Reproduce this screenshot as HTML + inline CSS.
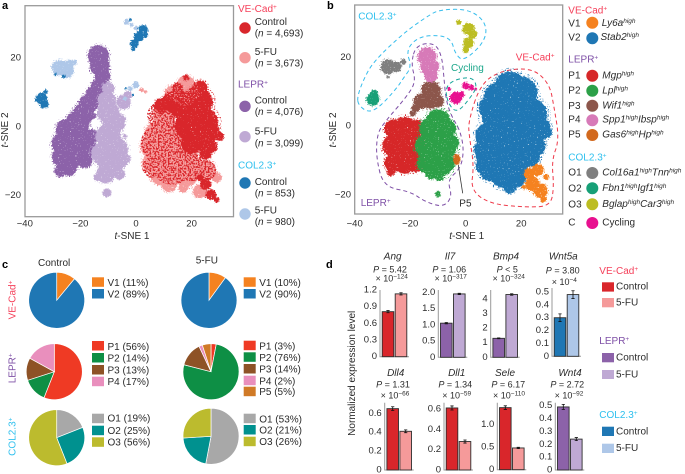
<!DOCTYPE html>
<html lang="en"><head><meta charset="utf-8"><title>t-SNE clusters, pies and expression bars</title>
<style>
html,body{margin:0;padding:0;background:#fff;width:685px;height:474px;overflow:hidden}
svg{display:block}
text{font-family:"Liberation Sans",sans-serif;font-size:10px;fill:#2b2b2b}
.red{fill:#f5405a}.pur{fill:#7e4fa6}.cya{fill:#2fc0ee}
.i{font-style:italic}
.b{font-weight:bold;font-size:11px;fill:#000}
.t{font-size:9.5px}
.sm{font-size:9px}
.sup{font-size:6.5px}
</style></head><body>
<svg id="fig" xmlns="http://www.w3.org/2000/svg" width="685" height="474" viewBox="0 0 685 474">
<defs>
<filter id="rough" x="-8%" y="-8%" width="116%" height="116%" color-interpolation-filters="sRGB"><feTurbulence type="fractalNoise" baseFrequency="0.7" numOctaves="1" seed="4" result="n"/><feDisplacementMap in="SourceGraphic" in2="n" scale="4" xChannelSelector="R" yChannelSelector="G" result="d"/><feColorMatrix in="n" type="matrix" values="0 0 0 0 0  0 0 0 0 0  0 0 0 0 0  9 0 0 0 -1.9" result="m"/><feComposite in="d" in2="m" operator="in"/></filter>
<filter id="sparse" x="-8%" y="-8%" width="116%" height="116%" color-interpolation-filters="sRGB"><feTurbulence type="fractalNoise" baseFrequency="0.75" numOctaves="1" seed="11" result="n"/><feColorMatrix in="n" type="matrix" values="0 0 0 0 0  0 0 0 0 0  0 0 0 0 0  0 10 0 0 -5.6" result="m"/><feComposite in="SourceGraphic" in2="m" operator="in"/></filter>
<filter id="scatter" x="-8%" y="-8%" width="116%" height="116%" color-interpolation-filters="sRGB"><feTurbulence type="fractalNoise" baseFrequency="0.6" numOctaves="1" seed="23" result="n"/><feColorMatrix in="n" type="matrix" values="0 0 0 0 0  0 0 0 0 0  0 0 0 0 0  0 0 10 0 -4.7" result="m"/><feComposite in="SourceGraphic" in2="m" operator="in"/></filter>
</defs>

<text class="b" x="2" y="9">a</text>
<text class="b" x="327" y="9">b</text>
<text class="b" x="2" y="268">c</text>
<text class="b" x="326" y="268">d</text>

<g id="plotA"></g>
<g id="plotB"></g>

<g>
<text class="red" x="238" y="12">VE-Cad<tspan class="sup" dy="-3">+</tspan></text>
<circle cx="245" cy="28" r="5.7" fill="#d9262b"/>
<text x="254.7" y="25">Control</text>
<text x="254.7" y="36.7">(<tspan class="i">n</tspan> = 4,693)</text>
<circle cx="245" cy="57.7" r="5.7" fill="#f59a9a"/>
<text x="254.7" y="55">5-FU</text>
<text x="254.7" y="66.7">(<tspan class="i">n</tspan> = 3,673)</text>
<text class="pur" x="238" y="87.7">LEPR<tspan class="sup" dy="-3">+</tspan></text>
<circle cx="245" cy="106.3" r="5.7" fill="#8c62a9"/>
<text x="254.7" y="103.3">Control</text>
<text x="254.7" y="115">(<tspan class="i">n</tspan> = 4,076)</text>
<circle cx="245" cy="136.7" r="5.7" fill="#bfa9d4"/>
<text x="254.7" y="134.3">5-FU</text>
<text x="254.7" y="146.7">(<tspan class="i">n</tspan> = 3,099)</text>
<text class="cya" x="238" y="168.3">COL2.3<tspan class="sup" dy="-3">+</tspan></text>
<circle cx="245" cy="183" r="5.7" fill="#1f77b4"/>
<text x="254.7" y="185">Control</text>
<text x="254.7" y="196.7">(<tspan class="i">n</tspan> = 853)</text>
<circle cx="245" cy="214" r="5.7" fill="#aec7e8"/>
<text x="254.7" y="213.3">5-FU</text>
<text x="254.7" y="225">(<tspan class="i">n</tspan> = 980)</text>
</g>

<g>
<text class="red" x="568.3" y="13.3">VE-Cad<tspan class="sup" dy="-3">+</tspan></text>
<text x="568.3" y="26.7">V1</text><circle cx="592.3" cy="22.7" r="6" fill="#f58220"/>
<text class="i" x="601.7" y="26">Ly6a<tspan class="sup" dy="-3">high</tspan></text>
<text x="568.3" y="40.7">V2</text><circle cx="592.3" cy="38.3" r="6" fill="#1f77b4"/>
<text class="i" x="600.5" y="40">Stab2<tspan class="sup" dy="-3">high</tspan></text>
<text class="pur" x="568.3" y="62.7">LEPR<tspan class="sup" dy="-3">+</tspan></text>
<text x="568.3" y="78.3">P1</text><circle cx="592.3" cy="75.7" r="6" fill="#d62728"/>
<text class="i" x="602.3" y="78.3">Mgp<tspan class="sup" dy="-3">high</tspan></text>
<text x="568.3" y="93.7">P2</text><circle cx="592.3" cy="90.7" r="6" fill="#2ca048"/>
<text class="i" x="602.3" y="93.7">Lpl<tspan class="sup" dy="-3">high</tspan></text>
<text x="568.3" y="109">P3</text><circle cx="592.3" cy="105.7" r="6" fill="#8c564b"/>
<text class="i" x="602.3" y="108.5">Wif1<tspan class="sup" dy="-3">high</tspan></text>
<text x="568.3" y="122.7">P4</text><circle cx="592.3" cy="120.3" r="6" fill="#d77ab8"/>
<text class="i" x="602.3" y="122.7">Spp1<tspan class="sup" dy="-3">high</tspan><tspan dy="3">Ibsp</tspan><tspan class="sup" dy="-3">high</tspan></text>
<text x="568.3" y="137.7">P5</text><circle cx="592.3" cy="135" r="6" fill="#d2691e"/>
<text class="i" x="602.3" y="137.7">Gas6<tspan class="sup" dy="-3">high</tspan><tspan dy="3">Hp</tspan><tspan class="sup" dy="-3">high</tspan></text>
<text class="cya" x="568.3" y="160.7">COL2.3<tspan class="sup" dy="-3">+</tspan></text>
<text x="568.3" y="175.7">O1</text><circle cx="592.3" cy="173" r="6" fill="#7f7f7f"/>
<text class="i" x="602.3" y="175.7">Col16a1<tspan class="sup" dy="-3">high</tspan><tspan dy="3">Tnn</tspan><tspan class="sup" dy="-3">high</tspan></text>
<text x="568.3" y="191.7">O2</text><circle cx="592.3" cy="188.3" r="6" fill="#17a077"/>
<text class="i" x="602.3" y="191">Fbn1<tspan class="sup" dy="-3">high</tspan><tspan dy="3">Igf1</tspan><tspan class="sup" dy="-3">high</tspan></text>
<text x="568.3" y="207.3">O3</text><circle cx="592.3" cy="204.3" r="6" fill="#bcbd22"/>
<text class="i" x="602.3" y="207">Bglap<tspan class="sup" dy="-3">high</tspan><tspan dy="3">Car3</tspan><tspan class="sup" dy="-3">high</tspan></text>
<text x="568.3" y="225.7">C</text><circle cx="592.3" cy="223" r="6" fill="#e8108f"/>
<text x="602.3" y="225.7">Cycling</text>
</g>

<text x="38" y="266">Control</text>
<text x="195.7" y="263.3">5-FU</text>
<text class="red" transform="translate(15.7,300) rotate(-90)" text-anchor="middle">VE-Cad<tspan class="sup" dy="-3">+</tspan></text>
<text class="pur" transform="translate(15.7,368.3) rotate(-90)" text-anchor="middle">LEPR<tspan class="sup" dy="-3">+</tspan></text>
<text class="cya" transform="translate(15.7,436.7) rotate(-90)" text-anchor="middle">COL2.3<tspan class="sup" dy="-3">+</tspan></text>
<g id="pies"></g>

<g id="bars"></g>
<text transform="translate(355,373.3) rotate(-90)" text-anchor="middle">Normalized expression level</text>

<g text-anchor="middle">
<text class="i" x="392.7" y="259.3">Ang</text>
<text class="sm" x="390" y="272.3"><tspan class="i">P</tspan> = 5.42</text>
<text class="sm" x="391.7" y="281.7">× 10<tspan class="sup" dy="-3">−124</tspan></text>
<text class="i" x="450" y="259.3">Il7</text>
<text class="sm" x="449.3" y="272.3"><tspan class="i">P</tspan> = 1.06</text>
<text class="sm" x="450.7" y="281.7">× 10<tspan class="sup" dy="-3">−317</tspan></text>
<text class="i" x="506" y="259.3">Bmp4</text>
<text class="sm" x="507.3" y="272.3"><tspan class="i">P</tspan> &lt; 5</text>
<text class="sm" x="508.7" y="281.7">× 10<tspan class="sup" dy="-3">−324</tspan></text>
<text class="i" x="563.3" y="259.3">Wnt5a</text>
<text class="sm" x="562.7" y="273.3"><tspan class="i">P</tspan> = 3.80</text>
<text class="sm" x="564.3" y="285">× 10<tspan class="sup" dy="-3">−4</tspan></text>
<text class="i" x="395.7" y="376">Dll4</text>
<text class="sm" x="393" y="387.3"><tspan class="i">P</tspan> = 1.31</text>
<text class="sm" x="395" y="398.3">× 10<tspan class="sup" dy="-3">−66</tspan></text>
<text class="i" x="456.7" y="376">Dll1</text>
<text class="sm" x="455.3" y="387.3"><tspan class="i">P</tspan> = 1.34</text>
<text class="sm" x="456.7" y="398.3">× 10<tspan class="sup" dy="-3">−59</tspan></text>
<text class="i" x="505" y="376">Sele</text>
<text class="sm" x="508.3" y="387.3"><tspan class="i">P</tspan> = 6.17</text>
<text class="sm" x="509" y="398.3">× 10<tspan class="sup" dy="-3">−110</tspan></text>
<text class="i" x="570" y="376">Wnt4</text>
<text class="sm" x="567.3" y="387.3"><tspan class="i">P</tspan> = 2.72</text>
<text class="sm" x="569" y="398.3">× 10<tspan class="sup" dy="-3">−92</tspan></text>
</g>

<g>
<text class="red" x="599.3" y="274">VE-Cad<tspan class="sup" dy="-3">+</tspan></text>
<rect x="602" y="282.3" width="12" height="9.3" fill="#d9262b"/><text x="616" y="289.6">Control</text>
<rect x="602" y="298" width="12" height="9.3" fill="#f59a9a"/><text x="616" y="305.7">5-FU</text>
<text class="pur" x="599.3" y="344">LEPR<tspan class="sup" dy="-3">+</tspan></text>
<rect x="602" y="353" width="12" height="9.3" fill="#8c62a9"/><text x="616" y="360.7">Control</text>
<rect x="602" y="370" width="12" height="9" fill="#bfa9d4"/><text x="616" y="377.3">5-FU</text>
<text class="cya" x="599.3" y="418">COL2.3<tspan class="sup" dy="-3">+</tspan></text>
<rect x="602" y="426.7" width="12" height="9.3" fill="#1f77b4"/><text x="616" y="434.3">Control</text>
<rect x="602" y="443.7" width="12" height="9.3" fill="#aec7e8"/><text x="616" y="451">5-FU</text>
</g>

<script>
// t-SNE panel a: estimated clumps of cells, each [tSNE1, tSNE2, spread]
const xTickValues = [-40, -20, 0, 20];
const yTickValues = [-20, 0, 20];
const fiveFuEndothelial = [[8,-2,3.6],[6,-6,3.4],[10,-8,5],[6,-11,3],[14,-12,4.5],[9,-14,3.2],[18,-14,3.6],[21,-12,3],[25,-13,3],[29,-15,1.4],[17,-8,4],[14,-3,4],[10,3,3.2],[14,9,3],[18,12,2.6],[20,9,3],[23,-19,2],[5,-2,1.6],[12,-17,2.2],[17,-18,1.4]];
const controlEndothelial = [[22,7,4.4],[17,6,4],[24,1,4.4],[19,0,4],[27,-2,2.6],[30,-3,1.3],[13,7,3],[9,6,2],[20,-5,3],[24,-4,3.2],[27,-6,1.8],[15,11,1.6],[23,11,2.2],[18,14,0.9],[25,-8,1.8],[25,-17,1.6],[27,-20,1.5],[29,-21.5,0.8],[23,-15,1]];
const controlEndothelialScatter = [[8,-5,5],[13,-11,6],[6,-12,3],[20,-12,4],[14,-3,5],[9,3,4],[25,-13,3],[4,-6,1.6]];
const fiveFuEndothelialScatter = [[18,10,4],[14,10,2.6]];
const fiveFuStromal = [[-10,11,1.8],[-10.5,7.5,2.6],[-10,4,3.2],[-8,1,3.2],[-10,-3,3.6],[-12,-8,3.3],[-8,-7,4],[-9,-11,3.6],[-5.5,-10,2.2],[-3.5,-9.5,1.3],[-11,-14,2.6],[-6,-14,1.6],[-14,-15,1],[-10.5,-19.5,1.2],[-4.5,7,2],[-3,9,1.2],[-5,2,1],[-4,-3,0.6]];
const controlStromal = [[-13.5,20.5,3],[-13,17.5,2.8],[-12,14.5,2.2],[-13.5,11.5,2.2],[-15,9,2.6],[-17,6.5,2.8],[-19,3.5,3],[-21,1,3.4],[-25,-1,3],[-22,-3,4.4],[-26,-5,3.4],[-19.5,-6,4],[-27,-9,2.6],[-24,-9,3.8],[-18.5,-10,2.2],[-27,-13,1.8],[-24,-12.5,2],[-16,-3,2],[-15.5,3,1]];
const fiveFuOsteo = [[-27.5,17,2.2],[-25,16,2],[-24,18,1.3],[-22,18.5,0.7],[-3.4,30.4,0.8],[-1.5,29.5,0.6],[-2,11,0.7],[0,12,0.9],[-4,8,0.6],[0,28.5,0.6]];
const controlOsteo = [[-34,8,1.6],[-33,6.5,1.3],[-32.5,10,0.6],[-36,7.5,0.4],[1,26,1.4],[2.5,28,1.4],[3.5,26.5,0.7],[-0.5,24,1.2],[-1,22.5,0.6],[-2,31,0.4],[-29,15,0.4],[-26,14.5,0.5],[-3.5,11,0.3],[-1,9,0.3]];
const strayPink = [[2,10.5,0.6],[3.5,10,0.4]];

// t-SNE panel b clumps, each [tSNE1, tSNE2, spread]
const clusterV2 = [[16,11,4.6],[20,9.5,4.6],[12,8,4.4],[9,5,3.4],[12,3,5],[18,3,6],[23,3,5],[26,-1,3.6],[29,-2,1.7],[8,-3,3.6],[13,-3,6],[20,-3,6],[25,-6,3],[6,-7,2.4],[9,-8,4.4],[16,-9,6],[23,-9,3],[6,-12,2],[9,-13,3.2],[14,-14,4.2],[18,-15,3],[16,-18,1.8]];
const clusterV1 = [[23,-14,1.6],[26,-13,1.7],[29,-15,0.8],[24,-17,2.1],[27,-19,2],[28,-21.5,0.9],[21,-18,0.6]];
const clusterP1 = [[-26,-1,2.6],[-22,-1,3.4],[-18,-1,2.6],[-26,-6,3.2],[-21,-6,4.2],[-17.5,-6,2.4],[-26,-11,2.6],[-22,-11,3],[-18,-11,2.6],[-27,-13.5,1.2]];
const clusterP2 = [[-10,1,3.6],[-13,-1,3],[-6.5,-1,2.4],[-14,-6,3.4],[-9,-6,4.6],[-5,-5,2.1],[-14,-11,2.8],[-10,-11,4.2],[-6.5,-11,2.2],[-12.5,-14,1.6],[-9.5,-15,1.2],[-10,-20,0.8]];
const clusterP3 = [[-12.5,10,2.8],[-12.5,7.5,2.6],[-16,7,2.2],[-10,7,1.7],[-18,5,1.2],[-19,3.5,0.9]];
const clusterP4 = [[-14,20,2.6],[-13,17,2.6],[-12.5,14.5,1.9]];
const clusterP5 = [[-3.2,-9.5,1],[-3.2,-10.5,0.9]];
const clusterO1 = [[-28,17,2.1],[-25,17,1.5],[-22.5,18.5,0.8],[-28,14,0.4]];
const clusterO2 = [[-33.5,7.5,1.8],[-33,9,1.2]];
const clusterO3 = [[-2.5,30,0.7],[1,28,1.7],[2.5,26.5,1.3],[1,24,1.5],[0,22,0.9]];
const clusterCycling = [[-3.5,8,1.7],[-1.5,9,0.9],[0,11.5,1],[2,11,0.8],[-6,10.5,0.5],[3.5,10.5,0.4]];

// Pie compositions (percent)
const pieVeControl = [11, 89];
const pieVe5fu = [10, 90];
const pieLeprControl = [56, 14, 13, 17];
const pieLepr5fu = [3, 76, 14, 2, 5];
const pieColControl = [19, 25, 56];
const pieCol5fu = [53, 21, 26];
const pieVeCodes = ['V1', 'V2'];
const pieLeprCodes = ['P1', 'P2', 'P3', 'P4', 'P5'];
const pieColCodes = ['O1', 'O2', 'O3'];

// Expression bar values
const barGenes = ['Ang', 'Il7', 'Bmp4', 'Wnt5a', 'Dll4', 'Dll1', 'Sele', 'Wnt4'];
const controlMeans = [0.81, 1.05, 1.3, 0.30, 0.65, 0.61, 1.37, 0.49];
const fiveFuMeans = [1.13, 1.95, 4.3, 0.48, 0.41, 0.28, 0.48, 0.24];
const controlErrors = [0.02, 0.02, 0.03, 0.03, 0.02, 0.02, 0.04, 0.02];
const fiveFuErrors = [0.02, 0.02, 0.05, 0.03, 0.015, 0.015, 0.015, 0.012];
const ticksAng = ['0', '0.3', '0.6', '0.9', '1.2'];
const ticksIl7 = ['0', '0.5', '1.0', '1.5', '2.0'];
const ticksBmp4 = ['0', '1', '2', '3', '4'];
const ticksWnt5a = ['0', '0.1', '0.2', '0.3', '0.4', '0.5'];
const ticksDll4 = ['0', '0.2', '0.4', '0.6'];
const ticksDll1 = ['0', '0.2', '0.4', '0.6'];
const ticksSele = ['0', '0.5', '1.0'];
const ticksWnt4 = ['0', '0.1', '0.2', '0.3', '0.4', '0.5'];
const barTicks = [ticksAng, ticksIl7, ticksBmp4, ticksWnt5a, ticksDll4, ticksDll1, ticksSele, ticksWnt4];

const NS = 'http://www.w3.org/2000/svg';
function mk(parent, tag, attrs, txt) {
  const el = document.createElementNS(NS, tag);
  for (const k in attrs) el.setAttribute(k, attrs[k]);
  if (txt !== undefined) el.textContent = txt;
  parent.appendChild(el);
  return el;
}
function minus(v) { return String(v).replace('-', '\u2212'); }

function drawTsneFrame(root, sx, sy, L, R, T, B, tickRight, xTitleX, yTitleX) {
  xTickValues.forEach(v => {
    const t = mk(root, 'text', {x: sx(v), y: 226.7, 'text-anchor': 'middle', class: 't'}, minus(v));
    
    
  });
  yTickValues.forEach(v => {
    const t = mk(root, 'text', {x: tickRight, y: sy(v) + 3.3, 'text-anchor': 'end', class: 't'}, minus(v));
    
    
  });
  const f = mk(root, 'rect', {x: L, y: T, width: R - L, height: B - T, fill: 'none', stroke: '#9a9a9a', 'stroke-width': 1.3});
  
  
  const xt = mk(root, 'text', {x: xTitleX, y: 239, 'text-anchor': 'middle'});
  
  
  mk(xt, 'tspan', {class: 'i'}, 't');
  mk(xt, 'tspan', {}, '-SNE 1');
  const yt = mk(root, 'text', {transform: 'translate(' + yTitleX + ',130) rotate(-90)', 'text-anchor': 'middle'});
  
  
  mk(yt, 'tspan', {class: 'i'}, 't');
  mk(yt, 'tspan', {}, '-SNE 2');
}
function clumpLayer(root, clumps, sx, sy, rad, color, name, filterId) {
  const g = mk(root, 'g', {fill: color, filter: 'url(#' + filterId + ')'});
  
  
  clumps.forEach(c => {
    const d = mk(g, 'circle', {cx: sx(c[0]), cy: sy(c[1]), r: c[2] * rad});
    
    
  });
}
function drawClumps(root, clumps, sx, sy, color, name) {
  clumpLayer(root, clumps, sx, sy, 4.3, color, name + '-fringe', 'sparse');
  clumpLayer(root, clumps, sx, sy, 3.5, color, name, 'rough');
}

// Panel a
const ax = v => 136 + 2.78 * v, ay = v => 126 - 3.43 * v;
const plotA = document.getElementById('plotA');
drawClumps(plotA, fiveFuEndothelial, ax, ay, '#f59a9a', 'five-fu-endothelial-cells');
clumpLayer(plotA, controlEndothelialScatter, ax, ay, 3.5, '#d9262b', 'control-endothelial-scatter', 'scatter');
drawClumps(plotA, controlEndothelial, ax, ay, '#d9262b', 'control-endothelial-cells');
clumpLayer(plotA, fiveFuEndothelialScatter, ax, ay, 3.5, '#f59a9a', 'five-fu-endothelial-scatter', 'sparse');
drawClumps(plotA, controlStromal, ax, ay, '#8c62a9', 'control-stromal-cells');
drawClumps(plotA, fiveFuStromal, ax, ay, '#bfa9d4', 'five-fu-stromal-cells');
drawClumps(plotA, fiveFuOsteo, ax, ay, '#aec7e8', 'five-fu-osteolineage-cells');
drawClumps(plotA, controlOsteo, ax, ay, '#1f77b4', 'control-osteolineage-cells');
drawClumps(plotA, strayPink, ax, ay, '#f59a9a', 'stray-endothelial-cells');
drawTsneFrame(plotA, ax, ay, 25, 233.5, 5.7, 216.7, 21, 132, 8);

// Panel b
const bx = v => 465.7 + 2.775 * v, by = v => 125.3 - 3.44 * v;
const plotB = document.getElementById('plotB');
drawClumps(plotB, clusterV2, bx, by, '#1f77b4', 'cluster-v2');
drawClumps(plotB, clusterV1, bx, by, '#f58220', 'cluster-v1');
drawClumps(plotB, clusterP1, bx, by, '#d62728', 'cluster-p1');
drawClumps(plotB, clusterP2, bx, by, '#2ca048', 'cluster-p2');
drawClumps(plotB, clusterP3, bx, by, '#8c564b', 'cluster-p3');
drawClumps(plotB, clusterP4, bx, by, '#d77ab8', 'cluster-p4');
drawClumps(plotB, clusterP5, bx, by, '#d2691e', 'cluster-p5');
drawClumps(plotB, clusterO1, bx, by, '#7f7f7f', 'cluster-o1');
drawClumps(plotB, clusterO2, bx, by, '#17a077', 'cluster-o2');
drawClumps(plotB, clusterO3, bx, by, '#bcbd22', 'cluster-o3');
drawClumps(plotB, clusterCycling, bx, by, '#e8108f', 'cluster-cycling');

function drawContours() {
  const smooth = pts => {
    const p = pts.map(q => [340 + q[0] / 3, q[1] / 3]);
    const mid = (a, b) => ((a[0] + b[0]) / 2).toFixed(1) + ' ' + ((a[1] + b[1]) / 2).toFixed(1);
    let d = 'M' + mid(p[p.length - 1], p[0]);
    p.forEach((q, i) => { d += 'Q' + q[0].toFixed(1) + ' ' + q[1].toFixed(1) + ' ' + mid(q, p[(i + 1) % p.length]); });
    return d + 'Z';
  };
  const col = mk(plotB, 'path', {d: smooth([[52,290],[70,240],[100,185],[190,100],[260,50],[300,28],[390,28],[440,70],[435,125],[370,185],[345,160],[335,120],[300,105],[235,110],[198,150],[215,200],[190,235],[170,265],[120,320],[85,338],[55,315]]), fill: 'none', stroke: '#36bdec', 'stroke-width': 1, 'stroke-dasharray': '4 3'});
  
  
  const lepr = mk(plotB, 'path', {d: smooth([[228,135],[285,128],[306,170],[312,235],[318,300],[335,350],[360,390],[372,450],[362,505],[322,540],[337,590],[310,622],[255,605],[212,575],[130,560],[108,470],[112,400],[135,365],[200,290],[228,245],[213,190]]), fill: 'none', stroke: '#7e4fa6', 'stroke-width': 1, 'stroke-dasharray': '4 3'});
  
  
  const cyc = mk(plotB, 'path', {d: smooth([[315,265],[340,240],[395,230],[412,258],[395,288],[352,340],[325,312]]), fill: 'none', stroke: '#17a59a', 'stroke-width': 1, 'stroke-dasharray': '4 3'});
  
  
  const ve = mk(plotB, 'path', {d: smooth([[420,255],[480,212],[575,203],[628,250],[642,320],[658,420],[635,480],[642,560],[632,618],[560,622],[450,612],[392,570],[402,500],[388,410],[385,365]]), fill: 'none', stroke: '#ee3a4a', 'stroke-width': 1, 'stroke-dasharray': '4 3'});
  
  
}
drawContours();
drawTsneFrame(plotB, bx, by, 354.7, 562.7, 5, 214, 351, 466.7, 336);

function annot(txt, x, y, cls, name) {
  const t = mk(plotB, 'text', {x: x, y: y, class: cls}, txt);
  
  
  return t;
}
mk(annot('COL2.3', 358.3, 19.3, 'cya', 'col-region-label'), 'tspan', {class: 'sup', dy: -3}, '+');
mk(annot('VE-Cad', 515.7, 60.7, 'red', 've-cad-region-label'), 'tspan', {class: 'sup', dy: -3}, '+');
mk(annot('LEPR', 360.7, 206, 'pur', 'lepr-region-label'), 'tspan', {class: 'sup', dy: -3}, '+');
annot('Cycling', 451, 71, '', 'cycling-region-label').style.fill = '#1aa68a';
annot('P5', 459.3, 206.7, '', 'p5-label');
const lead = mk(plotB, 'line', {x1: 458.3, y1: 165, x2: 462.7, y2: 193.3, stroke: '#333', 'stroke-width': 0.8});



// Pies
const veColors = ['#f58220', '#1f77b4'];
const leprColors = ['#ef3a24', '#0e8f45', '#8e5226', '#e98fbd', '#d07a27'];
const colColors = ['#a8a8a8', '#00918f', '#bcbb2e'];
const piesRoot = document.getElementById('pies');
function drawPie(vals, codes, colors, cx, cy, name, lx, tops, bases) {
  const total = vals.reduce((a, b) => a + b, 0);
  let acc = 0;
  const pt = f => [cx + 28 * Math.sin(f * 2 * Math.PI), cy - 28 * Math.cos(f * 2 * Math.PI)];
  vals.forEach((v, i) => {
    const a = pt(acc / total), b = pt((acc + v) / total);
    const large = v / total > 0.5 ? 1 : 0;
    const s = mk(piesRoot, 'path', {d: 'M' + cx + ' ' + cy + 'L' + a[0].toFixed(2) + ' ' + a[1].toFixed(2) + 'A28 28 0 ' + large + ' 1 ' + b[0].toFixed(2) + ' ' + b[1].toFixed(2) + 'Z', fill: colors[i], stroke: '#fff', 'stroke-width': 0.7});
    
    
    acc += v;
    const sw = mk(piesRoot, 'rect', {x: lx, y: tops[i], width: 12, height: 9.5, fill: colors[i]});
    
    
    const t = mk(piesRoot, 'text', {x: lx + 15.5, y: bases[i]}, codes[i] + ' (' + v + '%)');
    
    
  });
}
drawPie(pieVeControl, pieVeCodes, veColors, 56.7, 300.3, 've-control-pie', 92, [277.3, 289], [286, 297.5]);
drawPie(pieVe5fu, pieVeCodes, veColors, 209, 300.3, 've-5fu-pie', 243.7, [277.3, 289], [286, 297.5]);
drawPie(pieLeprControl, pieLeprCodes, leprColors, 54.3, 371.7, 'lepr-control-pie', 92, [341, 353, 365, 376.7], [350, 361.7, 373.3, 385]);
drawPie(pieLepr5fu, pieLeprCodes, leprColors, 211, 371.7, 'lepr-5fu-pie', 243.7, [340.7, 352.3, 364, 375.7, 386.7], [349.3, 361, 372.7, 384.3, 395]);
drawPie(pieColControl, pieColCodes, colColors, 56.7, 437.7, 'col-control-pie', 92, [413.7, 425.7, 437.3], [421.7, 434, 445.7]);
drawPie(pieCol5fu, pieColCodes, colColors, 211, 436.3, 'col-5fu-pie', 243.7, [413.7, 425, 436.7], [422.3, 433.3, 445]);

// Bars
const barsRoot = document.getElementById('bars');
const barFrames = [
  {axisX: 380, y0: 356.7, perUnit: 55.6, top: 290, step: 0.3, dark: '#d9262b', light: '#f59a9a'},
  {axisX: 438.3, y0: 357.3, perUnit: 32.5, top: 290, step: 0.5, dark: '#8c62a9', light: '#bfa9d4'},
  {axisX: 490.7, y0: 357.3, perUnit: 14.6, top: 290, step: 1, dark: '#8c62a9', light: '#bfa9d4'},
  {axisX: 552, y0: 356.3, perUnit: 128.6, top: 288, step: 0.1, dark: '#1f77b4', light: '#aec7e8'},
  {axisX: 384.7, y0: 470, perUnit: 94.4, top: 402.7, step: 0.2, dark: '#d9262b', light: '#f59a9a'},
  {axisX: 444, y0: 470, perUnit: 101.7, top: 402.7, step: 0.2, dark: '#d9262b', light: '#f59a9a'},
  {axisX: 497.3, y0: 469.7, perUnit: 45.3, top: 402.7, step: 0.5, dark: '#d9262b', light: '#f59a9a'},
  {axisX: 555.3, y0: 470, perUnit: 128.7, top: 402.7, step: 0.1, dark: '#8c62a9', light: '#bfa9d4'}
];
barGenes.forEach((gene, gi) => {
  const f = barFrames[gi];
  const name = gene.toLowerCase();
  const vy = v => f.y0 - v * f.perUnit;
  const ax2 = mk(barsRoot, 'path', {d: 'M' + f.axisX + ' ' + f.top + 'V' + f.y0 + 'H' + (f.axisX + 29), fill: 'none', stroke: '#9a9a9a', 'stroke-width': 1});
  
  
  barTicks[gi].forEach((lab, i) => {
    const t = mk(barsRoot, 'text', {x: f.axisX - 3, y: vy(i * f.step) + 2.5, 'text-anchor': 'end', class: 't'}, lab);
    
    
  });
  [[controlMeans[gi], controlErrors[gi], f.dark, 'control'], [fiveFuMeans[gi], fiveFuErrors[gi], f.light, 'five-fu']].forEach((s, k) => {
    const x = f.axisX + 2.2 + k * 13;
    const r = mk(barsRoot, 'rect', {x: x, y: vy(s[0]), width: 11.6, height: s[0] * f.perUnit, fill: s[2], stroke: '#2e2e2e', 'stroke-width': 0.9});
    
    
    const cx = x + 5.8, a = vy(s[0] + s[1]), b = vy(s[0] - s[1]);
    const e = mk(barsRoot, 'path', {d: 'M' + cx + ' ' + a + 'V' + b + 'M' + (cx - 1.6) + ' ' + a + 'H' + (cx + 1.6) + 'M' + (cx - 1.6) + ' ' + b + 'H' + (cx + 1.6), stroke: '#111', 'stroke-width': 0.8, fill: 'none'});
    
    
  });
});
</script>
</svg>
</body></html>
